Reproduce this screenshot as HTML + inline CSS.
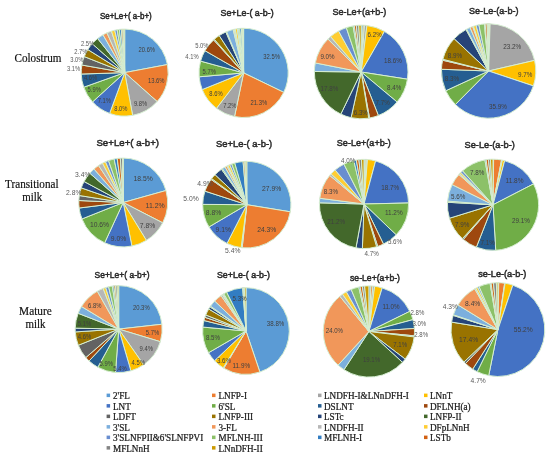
<!DOCTYPE html>
<html><head><meta charset="utf-8"><style>
html,body{margin:0;padding:0;background:#fff;width:550px;height:458px;overflow:hidden}
svg{display:block}
</style></head><body>
<svg width="550" height="458" viewBox="0 0 550 458">
<rect width="550" height="458" fill="#fff"/>
<g stroke="#D6EED2" stroke-width="1.0" stroke-linejoin="round"><path d="M124.70,72.60L124.70,29.10A43.5,43.5 0 0 1 167.45,64.56Z" fill="#5B9BD5"/><path d="M124.70,72.60L167.45,64.56A43.5,43.5 0 0 1 157.16,101.56Z" fill="#ED7D31"/><path d="M124.70,72.60L157.16,101.56A43.5,43.5 0 0 1 132.64,115.37Z" fill="#A5A5A5"/><path d="M124.70,72.60L132.64,115.37A43.5,43.5 0 0 1 109.61,113.40Z" fill="#FFC000"/><path d="M124.70,72.60L109.61,113.40A43.5,43.5 0 0 1 92.55,101.90Z" fill="#4472C4"/><path d="M124.70,72.60L92.55,101.90A43.5,43.5 0 0 1 83.73,87.21Z" fill="#70AD47"/><path d="M124.70,72.60L83.73,87.21A43.5,43.5 0 0 1 81.22,74.04Z" fill="#255E91"/><path d="M124.70,72.60L81.22,74.04A43.5,43.5 0 0 1 81.87,65.02Z" fill="#9E480E"/><path d="M124.70,72.60L81.87,65.02A43.5,43.5 0 0 1 84.25,56.59Z" fill="#636363"/><path d="M124.70,72.60L84.25,56.59A43.5,43.5 0 0 1 87.81,49.55Z" fill="#997300"/><path d="M124.70,72.60L87.81,49.55A43.5,43.5 0 0 1 92.18,43.70Z" fill="#264478"/><path d="M124.70,72.60L92.18,43.70A43.5,43.5 0 0 1 97.65,38.54Z" fill="#43682B"/><path d="M124.70,72.60L97.65,38.54A43.5,43.5 0 0 1 103.05,34.87Z" fill="#7CAFDD"/><path d="M124.70,72.60L103.05,34.87A43.5,43.5 0 0 1 106.98,32.87Z" fill="#F1975A"/><path d="M124.70,72.60L106.98,32.87A43.5,43.5 0 0 1 111.46,31.17Z" fill="#B7B7B7"/><path d="M124.70,72.60L111.46,31.17A43.5,43.5 0 0 1 114.75,30.25Z" fill="#FFCD33"/><path d="M124.70,72.60L114.75,30.25A43.5,43.5 0 0 1 117.13,29.76Z" fill="#698ED0"/><path d="M124.70,72.60L117.13,29.76A43.5,43.5 0 0 1 119.32,29.43Z" fill="#8CC168"/><path d="M124.70,72.60L119.32,29.43A43.5,43.5 0 0 1 121.28,29.23Z" fill="#327DC2"/><path d="M124.70,72.60L121.28,29.23A43.5,43.5 0 0 1 122.80,29.14Z" fill="#D26012"/><path d="M124.70,72.60L122.80,29.14A43.5,43.5 0 0 1 123.71,29.11Z" fill="#848484"/><path d="M124.70,72.60L123.71,29.11A43.5,43.5 0 0 1 124.70,29.10Z" fill="#CC9A00"/></g><g font-family="Liberation Sans, sans-serif" font-size="6.7"><text x="146.8" y="51.6" text-anchor="middle" textLength="16.5" lengthAdjust="spacingAndGlyphs" fill="#404040">20.6%</text><text x="156.2" y="83.4" text-anchor="middle" textLength="16.5" lengthAdjust="spacingAndGlyphs" fill="#404040">13.6%</text><text x="140.5" y="106.0" text-anchor="middle" textLength="13.2" lengthAdjust="spacingAndGlyphs" fill="#404040">9.8%</text><text x="120.9" y="110.9" text-anchor="middle" textLength="13.2" lengthAdjust="spacingAndGlyphs" fill="#404040">8.0%</text><text x="104.3" y="103.3" text-anchor="middle" textLength="13.2" lengthAdjust="spacingAndGlyphs" fill="#404040">7.1%</text><text x="94.2" y="91.6" text-anchor="middle" textLength="13.2" lengthAdjust="spacingAndGlyphs" fill="#404040">5.9%</text><text x="90.5" y="80.0" text-anchor="middle" textLength="13.2" lengthAdjust="spacingAndGlyphs" fill="#404040">4.6%</text><text x="73.6" y="70.9" text-anchor="middle" textLength="13.2" lengthAdjust="spacingAndGlyphs" fill="#595959">3.1%</text><text x="76.9" y="61.7" text-anchor="middle" textLength="13.2" lengthAdjust="spacingAndGlyphs" fill="#595959">3.0%</text><text x="80.8" y="54.1" text-anchor="middle" textLength="13.2" lengthAdjust="spacingAndGlyphs" fill="#595959">2.7%</text><text x="87.6" y="46.3" text-anchor="middle" textLength="13.2" lengthAdjust="spacingAndGlyphs" fill="#595959">2.5%</text></g><g stroke="#D6EED2" stroke-width="1.0" stroke-linejoin="round"><path d="M243.60,72.90L243.60,28.30A44.6,44.6 0 0 1 283.74,92.33Z" fill="#5B9BD5"/><path d="M243.60,72.90L283.74,92.33A44.6,44.6 0 0 1 234.52,116.57Z" fill="#ED7D31"/><path d="M243.60,72.90L234.52,116.57A44.6,44.6 0 0 1 216.51,108.33Z" fill="#A5A5A5"/><path d="M243.60,72.90L216.51,108.33A44.6,44.6 0 0 1 202.23,89.57Z" fill="#FFC000"/><path d="M243.60,72.90L202.23,89.57A44.6,44.6 0 0 1 199.17,76.79Z" fill="#4472C4"/><path d="M243.60,72.90L199.17,76.79A44.6,44.6 0 0 1 200.58,61.12Z" fill="#70AD47"/><path d="M243.60,72.90L200.58,61.12A44.6,44.6 0 0 1 204.95,50.65Z" fill="#255E91"/><path d="M243.60,72.90L204.95,50.65A44.6,44.6 0 0 1 213.61,39.89Z" fill="#9E480E"/><path d="M243.60,72.90L213.61,39.89A44.6,44.6 0 0 1 214.34,39.24Z" fill="#636363"/><path d="M243.60,72.90L214.34,39.24A44.6,44.6 0 0 1 219.21,35.56Z" fill="#997300"/><path d="M243.60,72.90L219.21,35.56A44.6,44.6 0 0 1 225.87,31.98Z" fill="#264478"/><path d="M243.60,72.90L225.87,31.98A44.6,44.6 0 0 1 226.62,31.66Z" fill="#43682B"/><path d="M243.60,72.90L226.62,31.66A44.6,44.6 0 0 1 233.19,29.53Z" fill="#7CAFDD"/><path d="M243.60,72.90L233.19,29.53A44.6,44.6 0 0 1 234.23,29.30Z" fill="#F1975A"/><path d="M243.60,72.90L234.23,29.30A44.6,44.6 0 0 1 235.26,29.09Z" fill="#B7B7B7"/><path d="M243.60,72.90L235.26,29.09A44.6,44.6 0 0 1 237.35,28.74Z" fill="#FFCD33"/><path d="M243.60,72.90L237.35,28.74A44.6,44.6 0 0 1 238.56,28.59Z" fill="#698ED0"/><path d="M243.60,72.90L238.56,28.59A44.6,44.6 0 0 1 239.78,28.46Z" fill="#8CC168"/><path d="M243.60,72.90L239.78,28.46A44.6,44.6 0 0 1 241.40,28.35Z" fill="#327DC2"/><path d="M243.60,72.90L241.40,28.35A44.6,44.6 0 0 1 242.13,28.32Z" fill="#D26012"/><path d="M243.60,72.90L242.13,28.32A44.6,44.6 0 0 1 242.87,28.31Z" fill="#848484"/><path d="M243.60,72.90L242.87,28.31A44.6,44.6 0 0 1 243.60,28.30Z" fill="#CC9A00"/></g><g font-family="Liberation Sans, sans-serif" font-size="7.0"><text x="271.6" y="58.7" text-anchor="middle" textLength="16.6" lengthAdjust="spacingAndGlyphs" fill="#404040">32.5%</text><text x="258.8" y="105.1" text-anchor="middle" textLength="16.6" lengthAdjust="spacingAndGlyphs" fill="#404040">21.3%</text><text x="229.8" y="107.5" text-anchor="middle" textLength="13.3" lengthAdjust="spacingAndGlyphs" fill="#404040">7.2%</text><text x="216.0" y="96.2" text-anchor="middle" textLength="13.3" lengthAdjust="spacingAndGlyphs" fill="#404040">8.6%</text><text x="209.2" y="73.7" text-anchor="middle" textLength="13.3" lengthAdjust="spacingAndGlyphs" fill="#404040">5.7%</text><text x="192.0" y="58.5" text-anchor="middle" textLength="13.3" lengthAdjust="spacingAndGlyphs" fill="#595959">4.1%</text><text x="201.8" y="47.9" text-anchor="middle" textLength="13.3" lengthAdjust="spacingAndGlyphs" fill="#595959">5.0%</text></g><g stroke="#D6EED2" stroke-width="1.0" stroke-linejoin="round"><path d="M361.20,72.00L361.20,25.20A46.8,46.8 0 0 1 363.24,25.24Z" fill="#5B9BD5"/><path d="M361.20,72.00L363.24,25.24A46.8,46.8 0 0 1 364.47,25.31Z" fill="#ED7D31"/><path d="M361.20,72.00L364.47,25.31A46.8,46.8 0 0 1 366.91,25.55Z" fill="#A5A5A5"/><path d="M361.20,72.00L366.91,25.55A46.8,46.8 0 0 1 384.49,31.41Z" fill="#FFC000"/><path d="M361.20,72.00L384.49,31.41A46.8,46.8 0 0 1 407.44,79.21Z" fill="#4472C4"/><path d="M361.20,72.00L407.44,79.21A46.8,46.8 0 0 1 397.09,102.03Z" fill="#70AD47"/><path d="M361.20,72.00L397.09,102.03A46.8,46.8 0 0 1 378.38,115.53Z" fill="#255E91"/><path d="M361.20,72.00L378.38,115.53A46.8,46.8 0 0 1 369.50,118.06Z" fill="#9E480E"/><path d="M361.20,72.00L369.50,118.06A46.8,46.8 0 0 1 368.69,118.20Z" fill="#636363"/><path d="M361.20,72.00L368.69,118.20A46.8,46.8 0 0 1 351.05,117.69Z" fill="#997300"/><path d="M361.20,72.00L351.05,117.69A46.8,46.8 0 0 1 340.80,114.12Z" fill="#264478"/><path d="M361.20,72.00L340.80,114.12A46.8,46.8 0 0 1 314.40,71.47Z" fill="#43682B"/><path d="M361.20,72.00L314.40,71.47A46.8,46.8 0 0 1 315.29,62.93Z" fill="#7CAFDD"/><path d="M361.20,72.00L315.29,62.93A46.8,46.8 0 0 1 327.95,39.07Z" fill="#F1975A"/><path d="M361.20,72.00L327.95,39.07A46.8,46.8 0 0 1 330.58,36.61Z" fill="#B7B7B7"/><path d="M361.20,72.00L330.58,36.61A46.8,46.8 0 0 1 338.62,31.01Z" fill="#FFCD33"/><path d="M361.20,72.00L338.62,31.01A46.8,46.8 0 0 1 346.33,27.63Z" fill="#698ED0"/><path d="M361.20,72.00L346.33,27.63A46.8,46.8 0 0 1 353.06,25.91Z" fill="#8CC168"/><path d="M361.20,72.00L353.06,25.91A46.8,46.8 0 0 1 354.27,25.72Z" fill="#327DC2"/><path d="M361.20,72.00L354.27,25.72A46.8,46.8 0 0 1 356.30,25.46Z" fill="#D26012"/><path d="M361.20,72.00L356.30,25.46A46.8,46.8 0 0 1 358.75,25.26Z" fill="#848484"/><path d="M361.20,72.00L358.75,25.26A46.8,46.8 0 0 1 361.20,25.20Z" fill="#CC9A00"/></g><g font-family="Liberation Sans, sans-serif" font-size="7.0"><text x="374.6" y="37.4" text-anchor="middle" textLength="14.2" lengthAdjust="spacingAndGlyphs" fill="#404040">6.2%</text><text x="392.9" y="63.3" text-anchor="middle" textLength="17.7" lengthAdjust="spacingAndGlyphs" fill="#404040">18.6%</text><text x="394.1" y="89.5" text-anchor="middle" textLength="14.2" lengthAdjust="spacingAndGlyphs" fill="#404040">8.4%</text><text x="382.6" y="104.6" text-anchor="middle" textLength="14.2" lengthAdjust="spacingAndGlyphs" fill="#404040">7.7%</text><text x="360.8" y="115.4" text-anchor="middle" textLength="14.2" lengthAdjust="spacingAndGlyphs" fill="#404040">6.3%</text><text x="329.4" y="91.3" text-anchor="middle" textLength="17.7" lengthAdjust="spacingAndGlyphs" fill="#404040">17.8%</text><text x="327.5" y="59.2" text-anchor="middle" textLength="14.2" lengthAdjust="spacingAndGlyphs" fill="#404040">9.0%</text></g><g stroke="#D6EED2" stroke-width="1.0" stroke-linejoin="round"><path d="M488.60,71.00L488.60,23.80A47.2,47.2 0 0 1 489.35,23.81Z" fill="#5B9BD5"/><path d="M488.60,71.00L489.35,23.81A47.2,47.2 0 0 1 490.11,23.82Z" fill="#ED7D31"/><path d="M488.60,71.00L490.11,23.82A47.2,47.2 0 0 1 534.59,60.38Z" fill="#A5A5A5"/><path d="M488.60,71.00L534.59,60.38A47.2,47.2 0 0 1 533.38,85.92Z" fill="#FFC000"/><path d="M488.60,71.00L533.38,85.92A47.2,47.2 0 0 1 455.37,104.52Z" fill="#4472C4"/><path d="M488.60,71.00L455.37,104.52A47.2,47.2 0 0 1 445.74,90.78Z" fill="#70AD47"/><path d="M488.60,71.00L445.74,90.78A47.2,47.2 0 0 1 441.43,69.26Z" fill="#255E91"/><path d="M488.60,71.00L441.43,69.26A47.2,47.2 0 0 1 442.65,60.21Z" fill="#9E480E"/><path d="M488.60,71.00L442.65,60.21A47.2,47.2 0 0 1 442.88,59.29Z" fill="#636363"/><path d="M488.60,71.00L442.88,59.29A47.2,47.2 0 0 1 454.19,38.69Z" fill="#997300"/><path d="M488.60,71.00L454.19,38.69A47.2,47.2 0 0 1 466.00,29.56Z" fill="#264478"/><path d="M488.60,71.00L466.00,29.56A47.2,47.2 0 0 1 466.67,29.21Z" fill="#43682B"/><path d="M488.60,71.00L466.67,29.21A47.2,47.2 0 0 1 470.07,27.59Z" fill="#7CAFDD"/><path d="M488.60,71.00L470.07,27.59A47.2,47.2 0 0 1 472.70,26.56Z" fill="#F1975A"/><path d="M488.60,71.00L472.70,26.56A47.2,47.2 0 0 1 473.42,26.31Z" fill="#B7B7B7"/><path d="M488.60,71.00L473.42,26.31A47.2,47.2 0 0 1 476.12,25.48Z" fill="#FFCD33"/><path d="M488.60,71.00L476.12,25.48A47.2,47.2 0 0 1 478.87,24.81Z" fill="#698ED0"/><path d="M488.60,71.00L478.87,24.81A47.2,47.2 0 0 1 484.46,23.98Z" fill="#8CC168"/><path d="M488.60,71.00L484.46,23.98A47.2,47.2 0 0 1 485.21,23.92Z" fill="#327DC2"/><path d="M488.60,71.00L485.21,23.92A47.2,47.2 0 0 1 487.09,23.82Z" fill="#D26012"/><path d="M488.60,71.00L487.09,23.82A47.2,47.2 0 0 1 487.85,23.81Z" fill="#848484"/><path d="M488.60,71.00L487.85,23.81A47.2,47.2 0 0 1 488.60,23.80Z" fill="#CC9A00"/></g><g font-family="Liberation Sans, sans-serif" font-size="7.0"><text x="512.2" y="48.5" text-anchor="middle" textLength="18.0" lengthAdjust="spacingAndGlyphs" fill="#404040">23.2%</text><text x="525.2" y="76.9" text-anchor="middle" textLength="14.4" lengthAdjust="spacingAndGlyphs" fill="#404040">9.7%</text><text x="498.0" y="108.8" text-anchor="middle" textLength="18.0" lengthAdjust="spacingAndGlyphs" fill="#404040">35.9%</text><text x="452.0" y="81.1" text-anchor="middle" textLength="14.4" lengthAdjust="spacingAndGlyphs" fill="#404040">8.3%</text><text x="455.0" y="58.0" text-anchor="middle" textLength="14.4" lengthAdjust="spacingAndGlyphs" fill="#404040">8.9%</text></g><g stroke="#D6EED2" stroke-width="1.0" stroke-linejoin="round"><path d="M123.20,202.50L123.20,158.10A44.4,44.4 0 0 1 165.96,190.53Z" fill="#5B9BD5"/><path d="M123.20,202.50L165.96,190.53A44.4,44.4 0 0 1 162.68,222.82Z" fill="#ED7D31"/><path d="M123.20,202.50L162.68,222.82A44.4,44.4 0 0 1 146.39,240.36Z" fill="#A5A5A5"/><path d="M123.20,202.50L146.39,240.36A44.4,44.4 0 0 1 131.90,246.04Z" fill="#FFC000"/><path d="M123.20,202.50L131.90,246.04A44.4,44.4 0 0 1 104.66,242.84Z" fill="#4472C4"/><path d="M123.20,202.50L104.66,242.84A44.4,44.4 0 0 1 81.96,218.94Z" fill="#70AD47"/><path d="M123.20,202.50L81.96,218.94A44.4,44.4 0 0 1 79.14,208.02Z" fill="#255E91"/><path d="M123.20,202.50L79.14,208.02A44.4,44.4 0 0 1 78.84,200.53Z" fill="#9E480E"/><path d="M123.20,202.50L78.84,200.53A44.4,44.4 0 0 1 79.35,195.52Z" fill="#636363"/><path d="M123.20,202.50L79.35,195.52A44.4,44.4 0 0 1 81.28,187.87Z" fill="#997300"/><path d="M123.20,202.50L81.28,187.87A44.4,44.4 0 0 1 84.08,181.50Z" fill="#264478"/><path d="M123.20,202.50L84.08,181.50A44.4,44.4 0 0 1 89.81,173.24Z" fill="#43682B"/><path d="M123.20,202.50L89.81,173.24A44.4,44.4 0 0 1 94.03,169.03Z" fill="#7CAFDD"/><path d="M123.20,202.50L94.03,169.03A44.4,44.4 0 0 1 98.58,165.55Z" fill="#F1975A"/><path d="M123.20,202.50L98.58,165.55A44.4,44.4 0 0 1 102.50,163.22Z" fill="#B7B7B7"/><path d="M123.20,202.50L102.50,163.22A44.4,44.4 0 0 1 105.50,161.78Z" fill="#FFCD33"/><path d="M123.20,202.50L105.50,161.78A44.4,44.4 0 0 1 108.53,160.59Z" fill="#698ED0"/><path d="M123.20,202.50L108.53,160.59A44.4,44.4 0 0 1 114.13,159.04Z" fill="#8CC168"/><path d="M123.20,202.50L114.13,159.04A44.4,44.4 0 0 1 117.18,158.51Z" fill="#327DC2"/><path d="M123.20,202.50L117.18,158.51A44.4,44.4 0 0 1 120.34,158.19Z" fill="#D26012"/><path d="M123.20,202.50L120.34,158.19A44.4,44.4 0 0 1 122.58,158.10Z" fill="#848484"/><path d="M123.20,202.50L122.58,158.10A44.4,44.4 0 0 1 123.20,158.10Z" fill="#CC9A00"/></g><g font-family="Liberation Sans, sans-serif" font-size="7.6"><text x="143.1" y="181.1" text-anchor="middle" textLength="19.2" lengthAdjust="spacingAndGlyphs" fill="#404040">18.5%</text><text x="155.2" y="208.4" text-anchor="middle" textLength="19.2" lengthAdjust="spacingAndGlyphs" fill="#404040">11.2%</text><text x="147.5" y="228.0" text-anchor="middle" textLength="15.4" lengthAdjust="spacingAndGlyphs" fill="#404040">7.8%</text><text x="118.5" y="241.1" text-anchor="middle" textLength="15.4" lengthAdjust="spacingAndGlyphs" fill="#404040">9.0%</text><text x="99.5" y="226.5" text-anchor="middle" textLength="19.2" lengthAdjust="spacingAndGlyphs" fill="#404040">10.6%</text><text x="82.7" y="176.8" text-anchor="middle" textLength="15.4" lengthAdjust="spacingAndGlyphs" fill="#595959">3.4%</text><text x="73.8" y="195.0" text-anchor="middle" textLength="15.4" lengthAdjust="spacingAndGlyphs" fill="#595959">2.8%</text></g><g stroke="#D6EED2" stroke-width="1.0" stroke-linejoin="round"><path d="M246.80,204.70L246.80,161.40A44.1,43.3 0 0 1 290.30,211.80Z" fill="#5B9BD5"/><path d="M246.80,204.70L290.30,211.80A44.1,43.3 0 0 1 242.16,247.76Z" fill="#ED7D31"/><path d="M246.80,204.70L242.16,247.76A44.1,43.3 0 0 1 241.11,247.64Z" fill="#A5A5A5"/><path d="M246.80,204.70L241.11,247.64A44.1,43.3 0 0 1 227.01,243.40Z" fill="#FFC000"/><path d="M246.80,204.70L227.01,243.40A44.1,43.3 0 0 1 208.96,226.94Z" fill="#4472C4"/><path d="M246.80,204.70L208.96,226.94A44.1,43.3 0 0 1 202.70,204.36Z" fill="#70AD47"/><path d="M246.80,204.70L202.70,204.36A44.1,43.3 0 0 1 204.92,191.12Z" fill="#255E91"/><path d="M246.80,204.70L204.92,191.12A44.1,43.3 0 0 1 211.00,179.41Z" fill="#9E480E"/><path d="M246.80,204.70L211.00,179.41A44.1,43.3 0 0 1 211.63,178.57Z" fill="#636363"/><path d="M246.80,204.70L211.63,178.57A44.1,43.3 0 0 1 215.07,174.63Z" fill="#997300"/><path d="M246.80,204.70L215.07,174.63A44.1,43.3 0 0 1 221.49,169.24Z" fill="#264478"/><path d="M246.80,204.70L221.49,169.24A44.1,43.3 0 0 1 222.36,168.66Z" fill="#43682B"/><path d="M246.80,204.70L222.36,168.66A44.1,43.3 0 0 1 225.06,167.03Z" fill="#7CAFDD"/><path d="M246.80,204.70L225.06,167.03A44.1,43.3 0 0 1 226.93,166.05Z" fill="#F1975A"/><path d="M246.80,204.70L226.93,166.05A44.1,43.3 0 0 1 227.87,165.59Z" fill="#B7B7B7"/><path d="M246.80,204.70L227.87,165.59A44.1,43.3 0 0 1 229.81,164.74Z" fill="#FFCD33"/><path d="M246.80,204.70L229.81,164.74A44.1,43.3 0 0 1 231.78,163.99Z" fill="#698ED0"/><path d="M246.80,204.70L231.78,163.99A44.1,43.3 0 0 1 234.79,163.04Z" fill="#8CC168"/><path d="M246.80,204.70L234.79,163.04A44.1,43.3 0 0 1 243.10,161.55Z" fill="#327DC2"/><path d="M246.80,204.70L243.10,161.55A44.1,43.3 0 0 1 244.69,161.45Z" fill="#D26012"/><path d="M246.80,204.70L244.69,161.45A44.1,43.3 0 0 1 245.74,161.41Z" fill="#848484"/><path d="M246.80,204.70L245.74,161.41A44.1,43.3 0 0 1 246.80,161.40Z" fill="#CC9A00"/></g><g font-family="Liberation Sans, sans-serif" font-size="7.6"><text x="271.7" y="190.6" text-anchor="middle" textLength="19.2" lengthAdjust="spacingAndGlyphs" fill="#404040">27.9%</text><text x="266.8" y="231.9" text-anchor="middle" textLength="19.2" lengthAdjust="spacingAndGlyphs" fill="#404040">24.3%</text><text x="232.7" y="253.1" text-anchor="middle" textLength="15.4" lengthAdjust="spacingAndGlyphs" fill="#595959">5.4%</text><text x="223.2" y="231.5" text-anchor="middle" textLength="15.4" lengthAdjust="spacingAndGlyphs" fill="#404040">9.1%</text><text x="213.5" y="215.1" text-anchor="middle" textLength="15.4" lengthAdjust="spacingAndGlyphs" fill="#404040">8.8%</text><text x="191.0" y="200.7" text-anchor="middle" textLength="15.4" lengthAdjust="spacingAndGlyphs" fill="#595959">5.0%</text><text x="205.0" y="186.3" text-anchor="middle" textLength="15.4" lengthAdjust="spacingAndGlyphs" fill="#595959">4.9%</text></g><g stroke="#D6EED2" stroke-width="1.0" stroke-linejoin="round"><path d="M364.00,204.00L364.00,159.40A44.6,44.6 0 0 1 365.25,159.42Z" fill="#5B9BD5"/><path d="M364.00,204.00L365.25,159.42A44.6,44.6 0 0 1 366.33,159.46Z" fill="#ED7D31"/><path d="M364.00,204.00L366.33,159.46A44.6,44.6 0 0 1 367.42,159.53Z" fill="#A5A5A5"/><path d="M364.00,204.00L367.42,159.53A44.6,44.6 0 0 1 375.62,160.94Z" fill="#FFC000"/><path d="M364.00,204.00L375.62,160.94A44.6,44.6 0 0 1 408.59,202.99Z" fill="#4472C4"/><path d="M364.00,204.00L408.59,202.99A44.6,44.6 0 0 1 396.19,234.87Z" fill="#70AD47"/><path d="M364.00,204.00L396.19,234.87A44.6,44.6 0 0 1 383.48,244.12Z" fill="#255E91"/><path d="M364.00,204.00L383.48,244.12A44.6,44.6 0 0 1 377.71,246.44Z" fill="#9E480E"/><path d="M364.00,204.00L377.71,246.44A44.6,44.6 0 0 1 376.59,246.79Z" fill="#636363"/><path d="M364.00,204.00L376.59,246.79A44.6,44.6 0 0 1 362.37,248.57Z" fill="#997300"/><path d="M364.00,204.00L362.37,248.57A44.6,44.6 0 0 1 355.95,247.87Z" fill="#264478"/><path d="M364.00,204.00L355.95,247.87A44.6,44.6 0 0 1 319.42,202.83Z" fill="#43682B"/><path d="M364.00,204.00L319.42,202.83A44.6,44.6 0 0 1 319.77,198.26Z" fill="#7CAFDD"/><path d="M364.00,204.00L319.77,198.26A44.6,44.6 0 0 1 329.73,175.45Z" fill="#F1975A"/><path d="M364.00,204.00L329.73,175.45A44.6,44.6 0 0 1 331.06,173.93Z" fill="#B7B7B7"/><path d="M364.00,204.00L331.06,173.93A44.6,44.6 0 0 1 335.15,169.98Z" fill="#FFCD33"/><path d="M364.00,204.00L335.15,169.98A44.6,44.6 0 0 1 343.96,164.16Z" fill="#698ED0"/><path d="M364.00,204.00L343.96,164.16A44.6,44.6 0 0 1 353.82,160.58Z" fill="#8CC168"/><path d="M364.00,204.00L353.82,160.58A44.6,44.6 0 0 1 356.33,160.06Z" fill="#327DC2"/><path d="M364.00,204.00L356.33,160.06A44.6,44.6 0 0 1 358.87,159.70Z" fill="#D26012"/><path d="M364.00,204.00L358.87,159.70A44.6,44.6 0 0 1 361.43,159.47Z" fill="#848484"/><path d="M364.00,204.00L361.43,159.47A44.6,44.6 0 0 1 364.00,159.40Z" fill="#CC9A00"/></g><g font-family="Liberation Sans, sans-serif" font-size="7.0"><text x="390.2" y="190.2" text-anchor="middle" textLength="17.8" lengthAdjust="spacingAndGlyphs" fill="#404040">18.7%</text><text x="393.8" y="215.4" text-anchor="middle" textLength="17.8" lengthAdjust="spacingAndGlyphs" fill="#404040">11.2%</text><text x="395.0" y="243.7" text-anchor="middle" textLength="14.2" lengthAdjust="spacingAndGlyphs" fill="#595959">5.6%</text><text x="371.7" y="255.7" text-anchor="middle" textLength="14.2" lengthAdjust="spacingAndGlyphs" fill="#595959">4.7%</text><text x="336.2" y="224.0" text-anchor="middle" textLength="17.8" lengthAdjust="spacingAndGlyphs" fill="#404040">21.2%</text><text x="330.9" y="193.8" text-anchor="middle" textLength="14.2" lengthAdjust="spacingAndGlyphs" fill="#404040">8.3%</text><text x="348.2" y="163.3" text-anchor="middle" textLength="14.2" lengthAdjust="spacingAndGlyphs" fill="#595959">4.0%</text></g><g stroke="#D6EED2" stroke-width="1.0" stroke-linejoin="round"><path d="M493.00,204.80L493.00,159.20A45.6,45.6 0 0 1 493.64,159.20Z" fill="#5B9BD5"/><path d="M493.00,204.80L493.64,159.20A45.6,45.6 0 0 1 501.56,160.01Z" fill="#ED7D31"/><path d="M493.00,204.80L501.56,160.01A45.6,45.6 0 0 1 502.35,160.17Z" fill="#A5A5A5"/><path d="M493.00,204.80L502.35,160.17A45.6,45.6 0 0 1 504.67,160.72Z" fill="#FFC000"/><path d="M493.00,204.80L504.67,160.72A45.6,45.6 0 0 1 533.54,183.91Z" fill="#4472C4"/><path d="M493.00,204.80L533.54,183.91A45.6,45.6 0 0 1 495.71,250.32Z" fill="#70AD47"/><path d="M493.00,204.80L495.71,250.32A45.6,45.6 0 0 1 476.33,247.24Z" fill="#255E91"/><path d="M493.00,204.80L476.33,247.24A45.6,45.6 0 0 1 463.33,239.43Z" fill="#9E480E"/><path d="M493.00,204.80L463.33,239.43A45.6,45.6 0 0 1 462.43,238.64Z" fill="#636363"/><path d="M493.00,204.80L462.43,238.64A45.6,45.6 0 0 1 449.42,218.24Z" fill="#997300"/><path d="M493.00,204.80L449.42,218.24A45.6,45.6 0 0 1 447.47,202.25Z" fill="#264478"/><path d="M493.00,204.80L447.47,202.25A45.6,45.6 0 0 1 447.55,201.06Z" fill="#43682B"/><path d="M493.00,204.80L447.55,201.06A45.6,45.6 0 0 1 452.11,184.63Z" fill="#7CAFDD"/><path d="M493.00,204.80L452.11,184.63A45.6,45.6 0 0 1 458.95,174.47Z" fill="#F1975A"/><path d="M493.00,204.80L458.95,174.47A45.6,45.6 0 0 1 459.76,173.59Z" fill="#B7B7B7"/><path d="M493.00,204.80L459.76,173.59A45.6,45.6 0 0 1 460.87,172.44Z" fill="#FFCD33"/><path d="M493.00,204.80L460.87,172.44A45.6,45.6 0 0 1 462.61,170.80Z" fill="#698ED0"/><path d="M493.00,204.80L462.61,170.80A45.6,45.6 0 0 1 484.91,159.92Z" fill="#8CC168"/><path d="M493.00,204.80L484.91,159.92A45.6,45.6 0 0 1 486.09,159.73Z" fill="#327DC2"/><path d="M493.00,204.80L486.09,159.73A45.6,45.6 0 0 1 488.46,159.43Z" fill="#D26012"/><path d="M493.00,204.80L488.46,159.43A45.6,45.6 0 0 1 490.45,159.27Z" fill="#848484"/><path d="M493.00,204.80L490.45,159.27A45.6,45.6 0 0 1 493.00,159.20Z" fill="#CC9A00"/></g><g font-family="Liberation Sans, sans-serif" font-size="7.0"><text x="514.5" y="183.0" text-anchor="middle" textLength="18.0" lengthAdjust="spacingAndGlyphs" fill="#404040">11.8%</text><text x="521.0" y="223.3" text-anchor="middle" textLength="18.0" lengthAdjust="spacingAndGlyphs" fill="#404040">29.1%</text><text x="487.7" y="245.1" text-anchor="middle" textLength="14.4" lengthAdjust="spacingAndGlyphs" fill="#404040">7.1%</text><text x="462.2" y="227.4" text-anchor="middle" textLength="14.4" lengthAdjust="spacingAndGlyphs" fill="#404040">7.9%</text><text x="458.3" y="199.3" text-anchor="middle" textLength="14.4" lengthAdjust="spacingAndGlyphs" fill="#404040">5.6%</text><text x="477.3" y="175.3" text-anchor="middle" textLength="14.4" lengthAdjust="spacingAndGlyphs" fill="#404040">7.8%</text></g><g stroke="#D6EED2" stroke-width="1.0" stroke-linejoin="round"><path d="M118.70,329.10L118.70,285.60A43.5,43.5 0 0 1 161.93,324.25Z" fill="#5B9BD5"/><path d="M118.70,329.10L161.93,324.25A43.5,43.5 0 0 1 160.34,341.67Z" fill="#ED7D31"/><path d="M118.70,329.10L160.34,341.67A43.5,43.5 0 0 1 143.65,364.73Z" fill="#A5A5A5"/><path d="M118.70,329.10L143.65,364.73A43.5,43.5 0 0 1 130.91,370.85Z" fill="#FFC000"/><path d="M118.70,329.10L130.91,370.85A43.5,43.5 0 0 1 115.51,372.48Z" fill="#4472C4"/><path d="M118.70,329.10L115.51,372.48A43.5,43.5 0 0 1 97.81,367.26Z" fill="#70AD47"/><path d="M118.70,329.10L97.81,367.26A43.5,43.5 0 0 1 89.09,360.97Z" fill="#255E91"/><path d="M118.70,329.10L89.09,360.97A43.5,43.5 0 0 1 85.82,357.58Z" fill="#9E480E"/><path d="M118.70,329.10L85.82,357.58A43.5,43.5 0 0 1 78.31,345.25Z" fill="#636363"/><path d="M118.70,329.10L78.31,345.25A43.5,43.5 0 0 1 75.29,331.91Z" fill="#997300"/><path d="M118.70,329.10L75.29,331.91A43.5,43.5 0 0 1 75.21,328.11Z" fill="#264478"/><path d="M118.70,329.10L75.21,328.11A43.5,43.5 0 0 1 78.17,313.30Z" fill="#43682B"/><path d="M118.70,329.10L78.17,313.30A43.5,43.5 0 0 1 81.53,306.50Z" fill="#7CAFDD"/><path d="M118.70,329.10L81.53,306.50A43.5,43.5 0 0 1 97.35,291.20Z" fill="#F1975A"/><path d="M118.70,329.10L97.35,291.20A43.5,43.5 0 0 1 103.18,288.46Z" fill="#B7B7B7"/><path d="M118.70,329.10L103.18,288.46A43.5,43.5 0 0 1 105.69,287.59Z" fill="#FFCD33"/><path d="M118.70,329.10L105.69,287.59A43.5,43.5 0 0 1 108.62,286.78Z" fill="#698ED0"/><path d="M118.70,329.10L108.62,286.78A43.5,43.5 0 0 1 112.35,286.07Z" fill="#8CC168"/><path d="M118.70,329.10L112.35,286.07A43.5,43.5 0 0 1 113.85,285.87Z" fill="#327DC2"/><path d="M118.70,329.10L113.85,285.87A43.5,43.5 0 0 1 115.51,285.72Z" fill="#D26012"/><path d="M118.70,329.10L115.51,285.72A43.5,43.5 0 0 1 117.18,285.63Z" fill="#848484"/><path d="M118.70,329.10L117.18,285.63A43.5,43.5 0 0 1 118.70,285.60Z" fill="#CC9A00"/></g><g font-family="Liberation Sans, sans-serif" font-size="7.0"><text x="141.3" y="309.6" text-anchor="middle" textLength="16.7" lengthAdjust="spacingAndGlyphs" fill="#404040">20.3%</text><text x="152.5" y="335.2" text-anchor="middle" textLength="13.4" lengthAdjust="spacingAndGlyphs" fill="#404040">5.7%</text><text x="146.3" y="351.3" text-anchor="middle" textLength="13.4" lengthAdjust="spacingAndGlyphs" fill="#404040">9.4%</text><text x="138.3" y="364.6" text-anchor="middle" textLength="13.4" lengthAdjust="spacingAndGlyphs" fill="#404040">4.5%</text><text x="120.0" y="371.0" text-anchor="middle" textLength="13.4" lengthAdjust="spacingAndGlyphs" fill="#404040">5.4%</text><text x="106.2" y="365.7" text-anchor="middle" textLength="13.4" lengthAdjust="spacingAndGlyphs" fill="#404040">5.9%</text><text x="84.5" y="338.9" text-anchor="middle" textLength="13.4" lengthAdjust="spacingAndGlyphs" fill="#404040">4.6%</text><text x="84.5" y="326.1" text-anchor="middle" textLength="13.4" lengthAdjust="spacingAndGlyphs" fill="#404040">5.1%</text><text x="94.8" y="307.7" text-anchor="middle" textLength="13.4" lengthAdjust="spacingAndGlyphs" fill="#404040">6.8%</text></g><g stroke="#D6EED2" stroke-width="1.0" stroke-linejoin="round"><path d="M246.00,331.00L246.00,287.70A43.3,43.3 0 0 1 259.86,372.02Z" fill="#5B9BD5"/><path d="M246.00,331.00L259.86,372.02A43.3,43.3 0 0 1 223.82,368.19Z" fill="#ED7D31"/><path d="M246.00,331.00L223.82,368.19A43.3,43.3 0 0 1 223.25,367.84Z" fill="#A5A5A5"/><path d="M246.00,331.00L223.25,367.84A43.3,43.3 0 0 1 214.51,360.72Z" fill="#FFC000"/><path d="M246.00,331.00L214.51,360.72A43.3,43.3 0 0 1 208.55,352.73Z" fill="#4472C4"/><path d="M246.00,331.00L208.55,352.73A43.3,43.3 0 0 1 202.88,327.07Z" fill="#70AD47"/><path d="M246.00,331.00L202.88,327.07A43.3,43.3 0 0 1 203.99,320.51Z" fill="#255E91"/><path d="M246.00,331.00L203.99,320.51A43.3,43.3 0 0 1 204.92,317.32Z" fill="#9E480E"/><path d="M246.00,331.00L204.92,317.32A43.3,43.3 0 0 1 205.78,314.97Z" fill="#636363"/><path d="M246.00,331.00L205.78,314.97A43.3,43.3 0 0 1 208.70,309.00Z" fill="#997300"/><path d="M246.00,331.00L208.70,309.00A43.3,43.3 0 0 1 210.03,306.89Z" fill="#264478"/><path d="M246.00,331.00L210.03,306.89A43.3,43.3 0 0 1 210.50,306.20Z" fill="#43682B"/><path d="M246.00,331.00L210.50,306.20A43.3,43.3 0 0 1 214.72,301.06Z" fill="#7CAFDD"/><path d="M246.00,331.00L214.72,301.06A43.3,43.3 0 0 1 221.01,295.64Z" fill="#F1975A"/><path d="M246.00,331.00L221.01,295.64A43.3,43.3 0 0 1 222.39,294.70Z" fill="#B7B7B7"/><path d="M246.00,331.00L222.39,294.70A43.3,43.3 0 0 1 223.09,294.26Z" fill="#FFCD33"/><path d="M246.00,331.00L223.09,294.26A43.3,43.3 0 0 1 223.80,293.82Z" fill="#698ED0"/><path d="M246.00,331.00L223.80,293.82A43.3,43.3 0 0 1 226.72,292.23Z" fill="#8CC168"/><path d="M246.00,331.00L226.72,292.23A43.3,43.3 0 0 1 242.68,287.83Z" fill="#327DC2"/><path d="M246.00,331.00L242.68,287.83A43.3,43.3 0 0 1 243.51,287.77Z" fill="#D26012"/><path d="M246.00,331.00L243.51,287.77A43.3,43.3 0 0 1 244.34,287.73Z" fill="#848484"/><path d="M246.00,331.00L244.34,287.73A43.3,43.3 0 0 1 246.00,287.70Z" fill="#CC9A00"/></g><g font-family="Liberation Sans, sans-serif" font-size="7.0"><text x="275.6" y="326.2" text-anchor="middle" textLength="17.5" lengthAdjust="spacingAndGlyphs" fill="#404040">38.8%</text><text x="241.3" y="368.1" text-anchor="middle" textLength="17.5" lengthAdjust="spacingAndGlyphs" fill="#404040">11.9%</text><text x="223.9" y="363.3" text-anchor="middle" textLength="14.0" lengthAdjust="spacingAndGlyphs" fill="#404040">3.6%</text><text x="212.9" y="339.7" text-anchor="middle" textLength="14.0" lengthAdjust="spacingAndGlyphs" fill="#404040">8.5%</text><text x="239.6" y="301.1" text-anchor="middle" textLength="14.0" lengthAdjust="spacingAndGlyphs" fill="#404040">5.3%</text></g><g stroke="#D6EED2" stroke-width="1.0" stroke-linejoin="round"><path d="M368.90,331.50L368.90,285.90A45.6,45.6 0 0 1 370.97,285.95Z" fill="#5B9BD5"/><path d="M368.90,331.50L370.97,285.95A45.6,45.6 0 0 1 372.89,286.07Z" fill="#ED7D31"/><path d="M368.90,331.50L372.89,286.07A45.6,45.6 0 0 1 374.63,286.26Z" fill="#A5A5A5"/><path d="M368.90,331.50L374.63,286.26A45.6,45.6 0 0 1 382.19,287.88Z" fill="#FFC000"/><path d="M368.90,331.50L382.19,287.88A45.6,45.6 0 0 1 409.81,311.35Z" fill="#4472C4"/><path d="M368.90,331.50L409.81,311.35A45.6,45.6 0 0 1 412.93,319.63Z" fill="#70AD47"/><path d="M368.90,331.50L412.93,319.63A45.6,45.6 0 0 1 414.40,328.51Z" fill="#255E91"/><path d="M368.90,331.50L414.40,328.51A45.6,45.6 0 0 1 414.29,335.84Z" fill="#9E480E"/><path d="M368.90,331.50L414.29,335.84A45.6,45.6 0 0 1 414.17,336.95Z" fill="#636363"/><path d="M368.90,331.50L414.17,336.95A45.6,45.6 0 0 1 405.20,359.10Z" fill="#997300"/><path d="M368.90,331.50L405.20,359.10A45.6,45.6 0 0 1 402.48,362.35Z" fill="#264478"/><path d="M368.90,331.50L402.48,362.35A45.6,45.6 0 0 1 344.00,369.70Z" fill="#43682B"/><path d="M368.90,331.50L344.00,369.70A45.6,45.6 0 0 1 338.08,365.11Z" fill="#7CAFDD"/><path d="M368.90,331.50L338.08,365.11A45.6,45.6 0 0 1 339.89,296.32Z" fill="#F1975A"/><path d="M368.90,331.50L339.89,296.32A45.6,45.6 0 0 1 342.55,294.28Z" fill="#B7B7B7"/><path d="M368.90,331.50L342.55,294.28A45.6,45.6 0 0 1 346.39,291.84Z" fill="#FFCD33"/><path d="M368.90,331.50L346.39,291.84A45.6,45.6 0 0 1 351.18,289.48Z" fill="#698ED0"/><path d="M368.90,331.50L351.18,289.48A45.6,45.6 0 0 1 358.77,287.04Z" fill="#8CC168"/><path d="M368.90,331.50L358.77,287.04A45.6,45.6 0 0 1 360.02,286.77Z" fill="#327DC2"/><path d="M368.90,331.50L360.02,286.77A45.6,45.6 0 0 1 362.38,286.37Z" fill="#D26012"/><path d="M368.90,331.50L362.38,286.37A45.6,45.6 0 0 1 364.60,286.10Z" fill="#848484"/><path d="M368.90,331.50L364.60,286.10A45.6,45.6 0 0 1 368.90,285.90Z" fill="#CC9A00"/></g><g font-family="Liberation Sans, sans-serif" font-size="7.0"><text x="391.0" y="308.9" text-anchor="middle" textLength="17.2" lengthAdjust="spacingAndGlyphs" fill="#404040">11.0%</text><text x="417.4" y="314.6" text-anchor="middle" textLength="13.8" lengthAdjust="spacingAndGlyphs" fill="#595959">2.8%</text><text x="419.3" y="325.8" text-anchor="middle" textLength="13.8" lengthAdjust="spacingAndGlyphs" fill="#595959">3.0%</text><text x="421.2" y="336.9" text-anchor="middle" textLength="13.8" lengthAdjust="spacingAndGlyphs" fill="#595959">2.8%</text><text x="400.2" y="347.2" text-anchor="middle" textLength="13.8" lengthAdjust="spacingAndGlyphs" fill="#404040">7.1%</text><text x="371.5" y="361.7" text-anchor="middle" textLength="17.2" lengthAdjust="spacingAndGlyphs" fill="#404040">19.1%</text><text x="334.4" y="333.0" text-anchor="middle" textLength="17.2" lengthAdjust="spacingAndGlyphs" fill="#404040">24.0%</text></g><g stroke="#D6EED2" stroke-width="1.0" stroke-linejoin="round"><path d="M497.90,329.60L497.90,282.70A46.9,46.9 0 0 1 498.72,282.71Z" fill="#5B9BD5"/><path d="M497.90,329.60L498.72,282.71A46.9,46.9 0 0 1 504.67,283.19Z" fill="#ED7D31"/><path d="M497.90,329.60L504.67,283.19A46.9,46.9 0 0 1 505.08,283.25Z" fill="#A5A5A5"/><path d="M497.90,329.60L505.08,283.25A46.9,46.9 0 0 1 512.86,285.15Z" fill="#FFC000"/><path d="M497.90,329.60L512.86,285.15A46.9,46.9 0 0 1 488.71,375.59Z" fill="#4472C4"/><path d="M497.90,329.60L488.71,375.59A46.9,46.9 0 0 1 477.19,371.68Z" fill="#70AD47"/><path d="M497.90,329.60L477.19,371.68A46.9,46.9 0 0 1 472.70,369.16Z" fill="#255E91"/><path d="M497.90,329.60L472.70,369.16A46.9,46.9 0 0 1 465.50,363.51Z" fill="#9E480E"/><path d="M497.90,329.60L465.50,363.51A46.9,46.9 0 0 1 463.99,362.00Z" fill="#636363"/><path d="M497.90,329.60L463.99,362.00A46.9,46.9 0 0 1 451.60,322.10Z" fill="#997300"/><path d="M497.90,329.60L451.60,322.10A46.9,46.9 0 0 1 453.20,315.42Z" fill="#264478"/><path d="M497.90,329.60L453.20,315.42A46.9,46.9 0 0 1 453.40,314.80Z" fill="#43682B"/><path d="M497.90,329.60L453.40,314.80A46.9,46.9 0 0 1 458.00,304.96Z" fill="#7CAFDD"/><path d="M497.90,329.60L458.00,304.96A46.9,46.9 0 0 1 474.73,288.82Z" fill="#F1975A"/><path d="M497.90,329.60L474.73,288.82A46.9,46.9 0 0 1 475.81,288.23Z" fill="#B7B7B7"/><path d="M497.90,329.60L475.81,288.23A46.9,46.9 0 0 1 477.64,287.30Z" fill="#FFCD33"/><path d="M497.90,329.60L477.64,287.30A46.9,46.9 0 0 1 479.12,286.62Z" fill="#698ED0"/><path d="M497.90,329.60L479.12,286.62A46.9,46.9 0 0 1 490.08,283.36Z" fill="#8CC168"/><path d="M497.90,329.60L490.08,283.36A46.9,46.9 0 0 1 491.05,283.20Z" fill="#327DC2"/><path d="M497.90,329.60L491.05,283.20A46.9,46.9 0 0 1 493.49,282.91Z" fill="#D26012"/><path d="M497.90,329.60L493.49,282.91A46.9,46.9 0 0 1 496.35,282.73Z" fill="#848484"/><path d="M497.90,329.60L496.35,282.73A46.9,46.9 0 0 1 497.90,282.70Z" fill="#CC9A00"/></g><g font-family="Liberation Sans, sans-serif" font-size="7.5"><text x="523.2" y="332.0" text-anchor="middle" textLength="19.0" lengthAdjust="spacingAndGlyphs" fill="#404040">55.2%</text><text x="468.6" y="341.9" text-anchor="middle" textLength="19.0" lengthAdjust="spacingAndGlyphs" fill="#404040">17.4%</text><text x="472.7" y="305.6" text-anchor="middle" textLength="15.2" lengthAdjust="spacingAndGlyphs" fill="#404040">8.4%</text><text x="450.4" y="308.6" text-anchor="middle" textLength="15.2" lengthAdjust="spacingAndGlyphs" fill="#595959">4.3%</text><text x="478.2" y="382.5" text-anchor="middle" textLength="15.2" lengthAdjust="spacingAndGlyphs" fill="#595959">4.7%</text></g>
<g font-family="Liberation Sans, sans-serif" font-weight="normal" fill="#262626" stroke="#262626" stroke-width="0.5"><text x="99.9" y="19.1" font-size="8.6" textLength="51.9" lengthAdjust="spacingAndGlyphs" fill="#404040">Se+Le+( a-b+)</text><text x="220.5" y="16.4" font-size="9.0" textLength="53.1" lengthAdjust="spacingAndGlyphs" fill="#404040">Se+Le-( a-b-)</text><text x="332.4" y="14.5" font-size="9.6" textLength="54.0" lengthAdjust="spacingAndGlyphs" fill="#404040">Se-Le+(a+b-)</text><text x="469.0" y="13.6" font-size="9.8" textLength="49.5" lengthAdjust="spacingAndGlyphs" fill="#404040">Se-Le-(a-b-)</text><text x="96.4" y="145.5" font-size="9.8" textLength="62.7" lengthAdjust="spacingAndGlyphs" fill="#404040">Se+Le+( a-b+)</text><text x="216.0" y="147.3" font-size="9.6" textLength="56.2" lengthAdjust="spacingAndGlyphs" fill="#404040">Se+Le-( a-b-)</text><text x="336.8" y="146.2" font-size="9.6" textLength="54.0" lengthAdjust="spacingAndGlyphs" fill="#404040">Se-Le+(a+b-)</text><text x="464.5" y="148.2" font-size="9.6" textLength="50.4" lengthAdjust="spacingAndGlyphs" fill="#404040">Se-Le-(a-b-)</text><text x="94.5" y="278.2" font-size="9.0" textLength="55.0" lengthAdjust="spacingAndGlyphs" fill="#404040">Se+Le+( a-b+)</text><text x="216.9" y="277.8" font-size="9.0" textLength="53.1" lengthAdjust="spacingAndGlyphs" fill="#404040">Se+Le-( a-b-)</text><text x="350.0" y="280.5" font-size="9.0" textLength="50.0" lengthAdjust="spacingAndGlyphs" fill="#404040">se-Le+(a+b-)</text><text x="478.2" y="277.3" font-size="9.0" textLength="48.2" lengthAdjust="spacingAndGlyphs" fill="#404040">se-Le-(a-b-)</text></g>
<g font-family="Liberation Serif, serif" font-size="13" fill="#111111" stroke="#111111" stroke-width="0.2"><text x="14.5" y="62.2" textLength="47.0" lengthAdjust="spacingAndGlyphs">Colostrum</text><text x="5.1" y="188.3" textLength="53.4" lengthAdjust="spacingAndGlyphs">Transitional</text><text x="22.2" y="201.4" textLength="20.0" lengthAdjust="spacingAndGlyphs">milk</text><text x="19.1" y="314.6" textLength="32.7" lengthAdjust="spacingAndGlyphs">Mature</text><text x="25.5" y="327.7" textLength="20.0" lengthAdjust="spacingAndGlyphs">milk</text></g>
<g font-family="Liberation Serif, serif" font-size="10" fill="#1a1a1a" stroke="#1a1a1a" stroke-width="0.25"><rect x="106.6" y="393.6" width="3.5" height="3.5" fill="#5B9BD5" stroke="none"/><text transform="translate(113.00,399.30) scale(0.915,1)">2'FL</text><rect x="212.0" y="393.6" width="3.5" height="3.5" fill="#ED7D31" stroke="none"/><text transform="translate(218.50,399.30) scale(0.915,1)">LNFP-I</text><rect x="318.0" y="393.6" width="3.5" height="3.5" fill="#A5A5A5" stroke="none"/><text transform="translate(324.00,399.30) scale(0.915,1)">LNDFH-I&amp;LNnDFH-I</text><rect x="424.0" y="393.6" width="3.5" height="3.5" fill="#FFC000" stroke="none"/><text transform="translate(430.00,399.30) scale(0.915,1)">LNnT</text><rect x="106.6" y="404.1" width="3.5" height="3.5" fill="#4472C4" stroke="none"/><text transform="translate(113.00,409.80) scale(0.915,1)">LNT</text><rect x="212.0" y="404.1" width="3.5" height="3.5" fill="#70AD47" stroke="none"/><text transform="translate(218.50,409.80) scale(0.915,1)">6'SL</text><rect x="318.0" y="404.1" width="3.5" height="3.5" fill="#255E91" stroke="none"/><text transform="translate(324.00,409.80) scale(0.915,1)">DSLNT</text><rect x="424.0" y="404.1" width="3.5" height="3.5" fill="#9E480E" stroke="none"/><text transform="translate(430.00,409.80) scale(0.915,1)">DFLNH(a)</text><rect x="106.6" y="414.6" width="3.5" height="3.5" fill="#636363" stroke="none"/><text transform="translate(113.00,420.30) scale(0.915,1)">LDFT</text><rect x="212.0" y="414.6" width="3.5" height="3.5" fill="#997300" stroke="none"/><text transform="translate(218.50,420.30) scale(0.915,1)">LNFP-III</text><rect x="318.0" y="414.6" width="3.5" height="3.5" fill="#264478" stroke="none"/><text transform="translate(324.00,420.30) scale(0.915,1)">LSTc</text><rect x="424.0" y="414.6" width="3.5" height="3.5" fill="#43682B" stroke="none"/><text transform="translate(430.00,420.30) scale(0.915,1)">LNFP-II</text><rect x="106.6" y="425.1" width="3.5" height="3.5" fill="#7CAFDD" stroke="none"/><text transform="translate(113.00,430.80) scale(0.915,1)">3'SL</text><rect x="212.0" y="425.1" width="3.5" height="3.5" fill="#F1975A" stroke="none"/><text transform="translate(218.50,430.80) scale(0.915,1)">3-FL</text><rect x="318.0" y="425.1" width="3.5" height="3.5" fill="#B7B7B7" stroke="none"/><text transform="translate(324.00,430.80) scale(0.915,1)">LNDFH-II</text><rect x="424.0" y="425.1" width="3.5" height="3.5" fill="#FFCD33" stroke="none"/><text transform="translate(430.00,430.80) scale(0.915,1)">DFpLNnH</text><rect x="106.6" y="435.6" width="3.5" height="3.5" fill="#698ED0" stroke="none"/><text transform="translate(113.00,441.30) scale(0.915,1)">3'SLNFPII&amp;6'SLNFPVI</text><rect x="212.0" y="435.6" width="3.5" height="3.5" fill="#8CC168" stroke="none"/><text transform="translate(218.50,441.30) scale(0.915,1)">MFLNH-III</text><rect x="318.0" y="435.6" width="3.5" height="3.5" fill="#327DC2" stroke="none"/><text transform="translate(324.00,441.30) scale(0.915,1)">MFLNH-I</text><rect x="424.0" y="435.6" width="3.5" height="3.5" fill="#D26012" stroke="none"/><text transform="translate(430.00,441.30) scale(0.915,1)">LSTb</text><rect x="106.6" y="446.1" width="3.5" height="3.5" fill="#848484" stroke="none"/><text transform="translate(113.00,451.80) scale(0.915,1)">MFLNnH</text><rect x="212.0" y="446.1" width="3.5" height="3.5" fill="#CC9A00" stroke="none"/><text transform="translate(218.50,451.80) scale(0.915,1)">LNnDFH-II</text></g>
</svg>
</body></html>
